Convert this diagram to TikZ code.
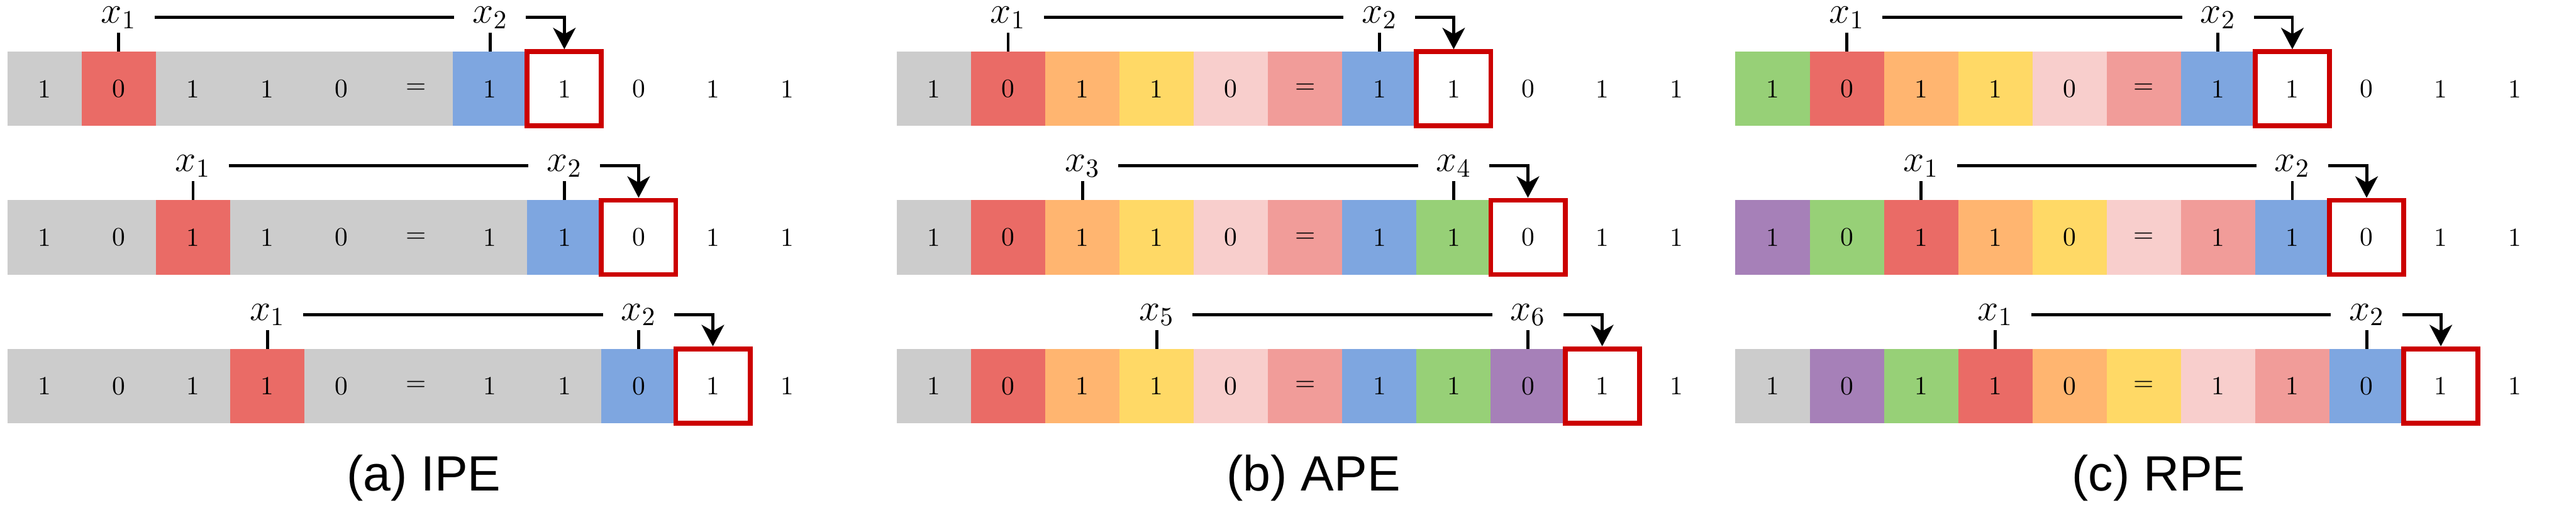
\documentclass[tikz,border=0pt]{standalone}
\usepackage{fontspec}
\newfontfamily\capfont{Liberation Sans}
\usetikzlibrary{arrows.meta,positioning}

\definecolor{cgray}{HTML}{CCCCCC}
\definecolor{cred}{HTML}{EA6B66}
\definecolor{corange}{HTML}{FFB570}
\definecolor{cyellow}{HTML}{FFD966}
\definecolor{cpink}{HTML}{F8CECC}
\definecolor{csalmon}{HTML}{F19C99}
\definecolor{cblue}{HTML}{7EA6E0}
\definecolor{cgreen}{HTML}{97D077}
\definecolor{cpurple}{HTML}{A680B8}
\definecolor{boxred}{HTML}{CC0000}

% the token sequence, one symbol per cell
\newcommand{\seqsym}[1]{\ifcase\numexpr#1\relax 1\or 0\or 1\or 1\or 0\or =\or 1\or 1\or 0\or 1\or 1\fi}

\begin{document}
\begin{tikzpicture}[>={Stealth[length=8.2pt,width=8.6pt,inset=2.4pt]},
  cell/.style={minimum size=1cm,inner sep=0pt,outer sep=0pt},
  hit/.style={draw=boxred,line width=1.9pt,minimum size=1cm,inner sep=0pt},
  lbl/.style={font=\Large,anchor=base,minimum width=0.95cm,inner xsep=0pt,inner ysep=1.4pt},
  conn/.style={line width=1.2pt},
  capt/.style={font=\capfont\fontsize{19}{23}\selectfont,anchor=base}]
\useasboundingbox (0,0) rectangle (34.69,-7.16);
% rows: name / x / y / first label cell / labels / cell colours
\foreach \nm/\px/\py/\k/\la/\lb/\cols in {
  a0/0.10/1.197/1/1/2/{cgray,cred,cgray,cgray,cgray,cgray,cblue,none,none,none,none},
  a1/0.10/3.197/2/1/2/{cgray,cgray,cred,cgray,cgray,cgray,cgray,cblue,none,none,none},
  a2/0.10/5.197/3/1/2/{cgray,cgray,cgray,cred,cgray,cgray,cgray,cgray,cblue,none,none},
  b0/12.076/1.197/1/1/2/{cgray,cred,corange,cyellow,cpink,csalmon,cblue,none,none,none,none},
  b1/12.076/3.197/2/3/4/{cgray,cred,corange,cyellow,cpink,csalmon,cblue,cgreen,none,none,none},
  b2/12.076/5.197/3/5/6/{cgray,cred,corange,cyellow,cpink,csalmon,cblue,cgreen,cpurple,none,none},
  c0/23.37/1.197/1/1/2/{cgreen,cred,corange,cyellow,cpink,csalmon,cblue,none,none,none,none},
  c1/23.37/3.197/2/1/2/{cpurple,cgreen,cred,corange,cyellow,cpink,csalmon,cblue,none,none,none},
  c2/23.37/5.197/3/1/2/{cgray,cpurple,cgreen,cred,corange,cyellow,cpink,csalmon,cblue,none,none}}
{
  % cells
  \foreach \c [count=\i from 0] in \cols
    \node[cell,fill=\c] (\nm-\i) at (\px+\i+0.5,-\py) {\seqsym{\i}};
  \pgfmathtruncatemacro\kb{\k+5}
  \pgfmathtruncatemacro\kr{\k+6}
  % predicted token
  \node[hit] (\nm-box) at (\nm-\kr) {};
  % position labels
  \node[lbl] (\nm-p) at ([yshift=0.386cm]\nm-\k.north) {$x_{\la}$};
  \node[lbl] (\nm-q) at ([yshift=0.386cm]\nm-\kb.north) {$x_{\lb}$};
  \draw[conn] (\nm-p.south) -- (\nm-\k.north);
  \draw[conn] (\nm-q.south) -- (\nm-\kb.north);
  \draw[conn] (\nm-p.mid east) -- (\nm-q.mid west);
  \draw[conn,->] (\nm-q.mid east) -| (\nm-box.north);
}
% captions
\node[capt] (capa) at (5.706,-6.613) {(a) IPE};
\node[capt] (capb) at (17.69,-6.613) {(b) APE};
\node[capt] (capc) at (29.07,-6.613) {(c) RPE};
\end{tikzpicture}
\end{document}
